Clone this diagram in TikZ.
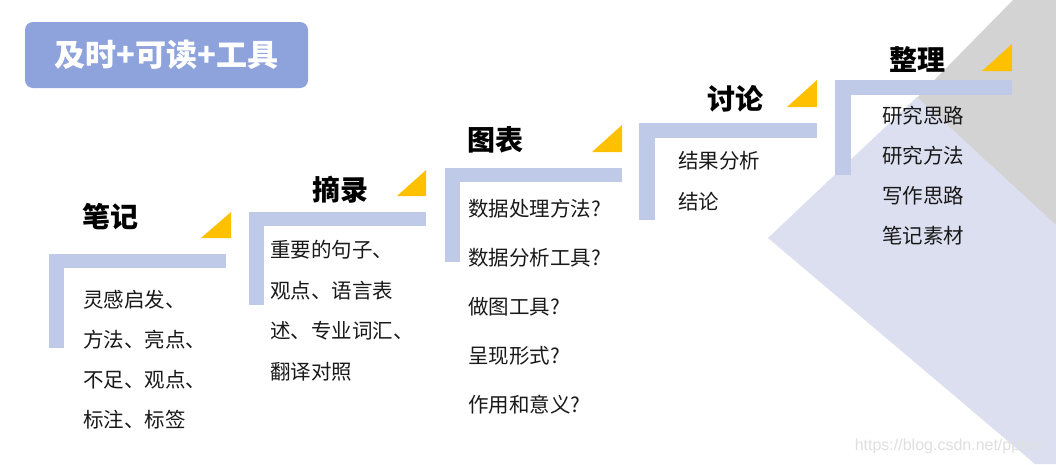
\documentclass[tikz,border=0pt]{standalone}
\usepackage{fontspec}
\setmainfont{Noto Sans CJK SC}
\setsansfont{Liberation Sans}
\definecolor{barc}{HTML}{BFC9E8}
\definecolor{lav}{HTML}{DCDFF0}
\definecolor{greyb}{HTML}{D3D3D3}
\definecolor{yel}{HTML}{FFC000}
\definecolor{boxc}{HTML}{8EA3DC}
\tikzset{
 bar/.style={fill=barc,draw=none},
 tri/.style={fill=yel,draw=none},
 ttl/.style={font=\fontsize{28}{28}\selectfont\bfseries,text=black},
 itm/.style={font=\fontsize{20.5}{38}\selectfont,text=black!90,anchor=north west,align=left,inner sep=0pt},
}
\begin{document}
\begin{tikzpicture}[x=1pt,y=-1pt]
\useasboundingbox (0,0) rectangle (1056,464);
\fill[white] (0,0) rectangle (1056,464);
\fill[greyb] (1013,0)--(1056,0)--(1056,230)--(905,110)--cycle;
\fill[lav] (917,97)--(1056,225)--(1056,464)--(1035,464)--(768,238)--cycle;
\node[fill=boxc,rounded corners=8pt,minimum width=283pt,minimum height=66pt,text=white,font=\fontsize{31}{31}\selectfont\bfseries] (hdr) at (166.5,55) {及时+可读+工具};
% step 1
\fill[bar] (49,254) rectangle (226,268);
\fill[bar] (49,254) rectangle (64,348);
\fill[tri] (201,238)--(231,238)--(231,212)--cycle;
\node[ttl] (t1) at (110,217) {笔记};
\node[itm,font=\fontsize{20.5}{40}\selectfont] (i1) at (83,290) {灵感启发、\\方法、亮点、\\不足、观点、\\标注、标签};
% step 2
\fill[bar] (249,212) rectangle (426,226);
\fill[bar] (249,212) rectangle (264,305);
\fill[tri] (397,196)--(426,196)--(426,170)--cycle;
\node[ttl] (t2) at (340,190) {摘录};
\node[itm,font=\fontsize{20.5}{40.5}\selectfont] (i2) at (270,240) {重要的句子、\\观点、语言表\\述、专业词汇、\\翻译对照};
% step 3
\fill[bar] (445,168) rectangle (622,182);
\fill[bar] (445,168) rectangle (460,262);
\fill[tri] (592,152)--(622,152)--(622,125)--cycle;
\node[ttl] (t3) at (495,140) {图表};
\node[itm,font=\fontsize{20.5}{49}\selectfont] (i3) at (468,199) {数据处理方法?\\数据分析工具?\\做图工具?\\呈现形式?\\作用和意义?};
% step 4
\fill[bar] (639,123) rectangle (817,138);
\fill[bar] (639,123) rectangle (655,220);
\fill[tri] (787,107)--(817,107)--(817,80)--cycle;
\node[ttl] (t4) at (735,99) {讨论};
\node[itm,font=\fontsize{20.5}{41}\selectfont] (i4) at (678,151) {结果分析\\结论};
% step 5
\fill[bar] (835,80) rectangle (1012,95);
\fill[bar] (835,80) rectangle (851,175);
\fill[tri] (982,71)--(1012,71)--(1012,44)--cycle;
\node[ttl] (t5) at (917,60) {整理};
\node[itm,font=\fontsize{20.5}{40}\selectfont] (i5) at (882,106) {研究思路\\研究方法\\写作思路\\笔记素材};
\node[font=\sffamily\fontsize{16}{16}\selectfont,text=white!75!gray,anchor=east] (wm) at (1046,446) {https://blog.csdn.net/pptde};
\end{tikzpicture}
\end{document}
